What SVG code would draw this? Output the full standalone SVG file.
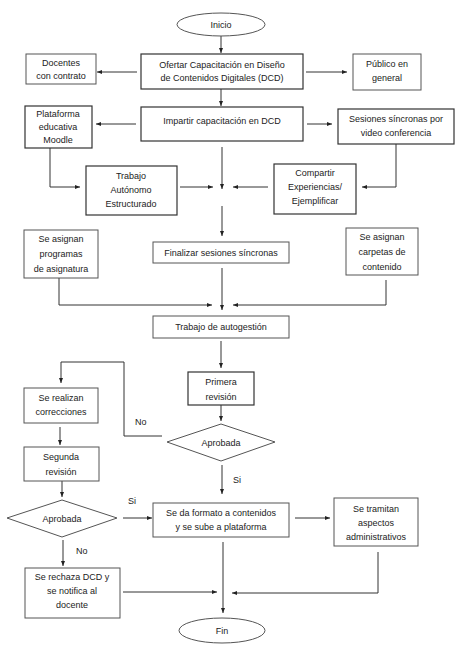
<svg xmlns="http://www.w3.org/2000/svg" width="474" height="651" viewBox="0 0 474 651">
<defs>
<marker id="ah" viewBox="0 0 10 10" refX="10" refY="5" markerWidth="5" markerHeight="5" orient="auto" markerUnits="userSpaceOnUse">
<path d="M0,1 L10,5 L0,9 z" fill="#222"/>
</marker>
<style>
.n rect, .n ellipse, .n polygon { fill: #fff; stroke: #555; stroke-width: 1; }
.n.d rect { stroke: #333; stroke-width: 1.2; }
text { font-family: "Liberation Sans", Arial, sans-serif; font-size: 9px; fill: #222; text-anchor: middle; }
.c path, .c line { fill: none; stroke: #333; stroke-width: 1; marker-end: url(#ah); }
.c .p { marker-end: none; }
.lbl { text-anchor: start; }
</style>
</defs>
<rect width="474" height="651" fill="#fff"/>

<g class="c" id="connectors">
<line x1="221" y1="36" x2="221" y2="53"/>
<line x1="137" y1="72" x2="97" y2="72"/>
<line x1="306" y1="72" x2="347" y2="72"/>
<line x1="221" y1="89" x2="221" y2="106"/>
<line x1="136" y1="124" x2="96" y2="124"/>
<line x1="307" y1="124" x2="332" y2="124"/>
<line x1="222" y1="147" x2="222" y2="189"/>
<path d="M50,147 V187 H80"/>
<line x1="180" y1="187" x2="213" y2="187"/>
<line x1="268" y1="187" x2="233" y2="187"/>
<path d="M396,144 V187 H362"/>
<line x1="222" y1="206" x2="222" y2="236"/>
<path d="M59,278 V305 H212"/>
<path d="M386,280 V305 H233"/>
<line x1="222" y1="268" x2="222" y2="310"/>
<line x1="221" y1="341" x2="221" y2="368"/>
<line x1="221" y1="405" x2="221" y2="421"/>
<path d="M162,436 H124 V362 H61 V383"/>
<line x1="60" y1="427" x2="60" y2="445"/>
<line x1="222" y1="465" x2="222" y2="494"/>
<line x1="62" y1="481" x2="62" y2="497"/>
<line x1="123" y1="518" x2="152" y2="518"/>
<line x1="295" y1="518" x2="330" y2="518"/>
<line x1="63" y1="540" x2="63" y2="566"/>
<line x1="123" y1="592" x2="217" y2="592"/>
<path d="M378,552 V593 H232"/>
<line x1="223" y1="542" x2="223" y2="613"/>
</g>

<g class="n" id="inicio"><ellipse cx="221" cy="24.5" rx="44" ry="11.5"/><text x="221" y="28">Inicio</text></g>
<g class="n d" id="ofertar"><rect x="141" y="54" width="162" height="35"/><text x="222" y="68">Ofertar Capacitación en Diseño</text><text x="222" y="81">de Contenidos  Digitales (DCD)</text></g>
<g class="n" id="docentes"><rect x="26" y="54" width="70" height="30"/><text x="61" y="66">Docentes</text><text x="61" y="79">con contrato</text></g>
<g class="n" id="publico"><rect x="353" y="54" width="68" height="36"/><text x="387" y="67">Público en</text><text x="387" y="81">general</text></g>
<g class="n d" id="impartir"><rect x="141" y="107" width="162" height="34"/><text x="222" y="124">Impartir capacitación en DCD</text></g>
<g class="n d" id="plataforma"><rect x="25" y="106" width="67" height="42"/><text x="58" y="117">Plataforma</text><text x="58" y="130">educativa</text><text x="58" y="143">Moodle</text></g>
<g class="n d" id="sesiones"><rect x="338" y="109" width="116" height="35"/><text x="396" y="122">Sesiones síncronas por</text><text x="396" y="136">video conferencia</text></g>
<g class="n d" id="trabajo-autonomo"><rect x="86" y="166" width="91" height="49"/><text x="131" y="179">Trabajo</text><text x="131" y="193">Autónomo</text><text x="131" y="207">Estructurado</text></g>
<g class="n d" id="compartir"><rect x="274" y="164" width="82" height="50"/><text x="315" y="176">Compartir</text><text x="315" y="190">Experiencias/</text><text x="315" y="204">Ejemplificar</text></g>
<g class="n" id="programas"><rect x="24" y="230" width="74" height="48"/><text x="61" y="242">Se asignan</text><text x="61" y="257">programas</text><text x="61" y="272">de asignatura</text></g>
<g class="n" id="finalizar"><rect x="153" y="242" width="136" height="21"/><text x="221" y="256">Finalizar sesiones síncronas</text></g>
<g class="n" id="carpetas"><rect x="346" y="228" width="72" height="47"/><text x="382" y="240">Se asignan</text><text x="382" y="255">carpetas de</text><text x="382" y="270">contenido</text></g>
<g class="n" id="autogestion"><rect x="153" y="316" width="136" height="22"/><text x="221" y="330">Trabajo de autogestión</text></g>
<g class="n d" id="primera"><rect x="188" y="372" width="66" height="33"/><text x="221" y="385">Primera</text><text x="221" y="400">revisión</text></g>
<g class="n" id="aprobada1"><polygon points="167,442 221,424 275,442 221,461"/><text x="221" y="446">Aprobada</text></g>
<g class="n" id="correcciones"><rect x="24" y="388" width="74" height="35"/><text x="61" y="401">Se realizan</text><text x="61" y="415">correcciones</text></g>
<g class="n" id="segunda"><rect x="24" y="447" width="75" height="34"/><text x="61" y="460">Segunda</text><text x="61" y="475">revisión</text></g>
<g class="n" id="aprobada2"><polygon points="7,518 62,500 117,518 62,537"/><text x="62" y="522">Aprobada</text></g>
<g class="n" id="formato"><rect x="153" y="503" width="136" height="34"/><text x="221" y="516">Se da formato a contenidos</text><text x="221" y="530">y se sube a plataforma</text></g>
<g class="n" id="tramitan"><rect x="334" y="498" width="84" height="48"/><text x="376" y="512">Se tramitan</text><text x="376" y="526">aspectos</text><text x="376" y="540">administrativos</text></g>
<g class="n" id="rechaza"><rect x="25" y="568" width="95" height="50"/><text x="72" y="580">Se rechaza DCD y</text><text x="72" y="594">se notifica al</text><text x="72" y="608">docente</text></g>
<g class="n" id="fin"><ellipse cx="222" cy="630.5" rx="43" ry="12.5"/><text x="222" y="634">Fin</text></g>

<g id="labels">
<text class="lbl" x="135" y="425">No</text>
<text class="lbl" x="233" y="483">Si</text>
<text class="lbl" x="128" y="504">Si</text>
<text class="lbl" x="76" y="554">No</text>
</g>
</svg>
